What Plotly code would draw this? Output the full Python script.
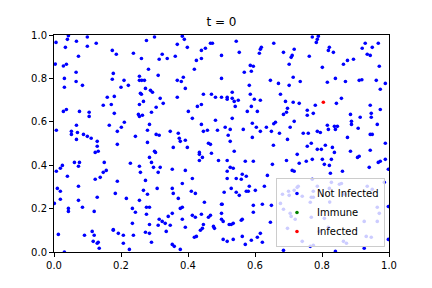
import plotly.graph_objects as go

# Not infected population (x, y)
x_not_infected = [
    0.043, 0.0995, 0.006, 0.040, 0.067, 0.034, 0.0995, 0.126, 0.073, 0.174, 0.186, 0.237, 0.004, 0.028, 0.037, 0.066, 0.177, 0.031, 0.066, 0.085, 0.174, 0.209, 0.200, 0.222, 0.031, 0.159, 0.180,
    0.300, 0.383, 0.276, 0.389, 0.368, 0.398, 0.440, 0.452, 0.467, 0.473, 0.500, 0.323, 0.314, 0.338, 0.362, 0.261, 0.425, 0.440, 0.282, 0.419, 0.311, 0.255, 0.255, 0.262, 0.270, 0.368, 0.380, 0.386, 0.500, 0.273, 0.288, 0.294, 0.392, 0.258, 0.261, 0.317, 0.368, 0.446, 0.470, 0.482, 0.500, 0.267, 0.255, 0.326,
    0.544, 0.656, 0.553, 0.613, 0.616, 0.619, 0.685, 0.717, 0.708, 0.711, 0.702, 0.586, 0.595, 0.568, 0.589, 0.714, 0.646, 0.670, 0.735, 0.583, 0.702, 0.532, 0.586, 0.676, 0.517, 0.517, 0.532, 0.538, 0.550, 0.598, 0.616, 0.691, 0.714, 0.732,
    0.771, 0.789, 0.786, 0.783, 0.822, 0.819, 0.834, 0.762, 0.801, 0.864, 0.876, 0.894, 0.920, 0.929, 0.950, 0.968, 0.935, 0.944, 0.971, 0.816, 0.840, 0.870, 0.911, 0.919, 0.962, 0.989, 0.974, 0.858, 0.843,
    0.147, 0.171, 0.028, 0.037, 0.076, 0.105, 0.105, 0.180, 0.007, 0.067, 0.052, 0.052, 0.070, 0.088, 0.0995, 0.111, 0.067, 0.165, 0.201, 0.210, 0.189, 0.243, 0.129, 0.129, 0.123, 0.132, 0.189, 0.061, 0.076, 0.025, 0.073, 0.019, 0.007, 0.150, 0.228, 0.156, 0.147, 0.138, 0.040,
    0.291, 0.305, 0.252, 0.255, 0.264, 0.285, 0.279, 0.305, 0.314, 0.347, 0.371, 0.374, 0.377, 0.392, 0.401, 0.428, 0.440, 0.413, 0.440, 0.446, 0.458, 0.482, 0.488, 0.279, 0.356, 0.398, 0.300, 0.303, 0.434, 0.434, 0.461, 0.467, 0.470, 0.443, 0.434, 0.491, 0.285, 0.291, 0.255, 0.297, 0.317, 0.258, 0.311, 0.353, 0.392,
    0.541, 0.589, 0.577, 0.607, 0.697, 0.685, 0.694, 0.756, 0.756, 0.532, 0.511, 0.526, 0.520, 0.526, 0.565, 0.592, 0.604, 0.616, 0.634, 0.649, 0.656, 0.661, 0.592, 0.673, 0.705, 0.717, 0.744, 0.697, 0.655, 0.756, 0.538, 0.517, 0.571, 0.595, 0.652, 0.694, 0.726, 0.732, 0.753, 0.526, 0.535, 0.517, 0.711, 0.717, 0.562, 0.574, 0.637,
    0.780, 0.944, 0.774, 0.974, 0.947, 0.947, 0.885, 0.914, 0.888, 0.888, 0.965, 0.816, 0.819, 0.837, 0.840, 0.846, 0.908, 0.759, 0.786, 0.795, 0.876, 0.944, 0.950, 0.768, 0.810, 0.831, 0.786, 0.798, 0.837, 0.885, 0.989, 0.944, 0.906, 0.911, 0.771, 0.801, 0.828, 0.807, 0.822, 0.861, 0.825, 0.941, 0.968, 0.974, 0.989, 0.998,
    0.123, 0.189, 0.010, 0.019, 0.073, 0.019, 0.073, 0.129, 0.183, 0.216, 0.001, 0.043, 0.043, 0.085, 0.120, 0.234, 0.243, 0.234, 0.013, 0.091, 0.114, 0.120, 0.177, 0.177, 0.192, 0.207, 0.237, 0.117, 0.129, 0.132, 0.135, 0.207, 0.225, 0.031,
    0.273, 0.413, 0.383, 0.267, 0.279, 0.308, 0.353, 0.356, 0.410, 0.422, 0.371, 0.255, 0.449, 0.276, 0.285, 0.276, 0.377, 0.383, 0.353, 0.341, 0.314, 0.323, 0.332, 0.347, 0.311, 0.285, 0.383, 0.392, 0.413, 0.422, 0.440, 0.461, 0.467, 0.446, 0.443, 0.437, 0.476, 0.479, 0.500, 0.502, 0.500, 0.500, 0.505, 0.419, 0.425, 0.273, 0.285, 0.335, 0.291, 0.353, 0.359, 0.377,
    0.517, 0.544, 0.559, 0.583, 0.628, 0.508, 0.529, 0.544, 0.553, 0.574, 0.580, 0.601, 0.682, 0.700, 0.717, 0.726, 0.729, 0.702, 0.741, 0.595, 0.622, 0.649, 0.676, 0.595, 0.685, 0.523, 0.529, 0.535, 0.559, 0.562, 0.646, 0.616, 0.607, 0.622, 0.589, 0.562, 0.571, 0.505, 0.517, 0.535, 0.685, 0.705, 0.708, 0.720, 0.697, 0.741,
    0.771, 0.828, 0.986, 0.786, 0.774, 0.768, 0.774, 0.822, 0.852, 0.858, 0.867, 0.935, 0.950, 0.998, 0.998, 0.840, 0.926,
    0.765, 0.823, 0.965, 0.971, 0.768, 0.807, 0.926, 0.965, 0.792, 0.819, 0.864, 0.873, 0.932, 0.947, 0.765, 0.774,
]
y_not_infected = [
    0.997, 0.991, 0.966, 0.980, 0.971, 0.943, 0.948, 0.962, 0.902, 0.929, 0.911, 0.916, 0.866, 0.857, 0.865, 0.828, 0.823, 0.800, 0.786, 0.768, 0.796, 0.791, 0.759, 0.768, 0.759, 0.713, 0.717,
    0.991, 0.994, 0.975, 0.980, 0.957, 0.943, 0.929, 0.939, 0.962, 0.962, 0.906, 0.911, 0.888, 0.892, 0.902, 0.892, 0.883, 0.892, 0.842, 0.842, 0.814, 0.810, 0.791, 0.791, 0.791, 0.791, 0.786, 0.805, 0.800, 0.754, 0.745, 0.736, 0.754, 0.731, 0.727, 0.708, 0.713, 0.727, 0.727, 0.713, 0.713, 0.694, 0.680, 0.685,
    0.971, 0.962, 0.920, 0.916, 0.934, 0.943, 0.920, 0.934, 0.897, 0.906, 0.865, 0.860, 0.856, 0.828, 0.833, 0.805, 0.791, 0.777, 0.786, 0.768, 0.768, 0.736, 0.727, 0.727, 0.713, 0.704, 0.708, 0.694, 0.699, 0.704, 0.699, 0.694, 0.690, 0.685,
    0.991, 0.994, 0.980, 0.966, 0.943, 0.929, 0.920, 0.902, 0.851, 0.865, 0.883, 0.888, 0.939, 0.962, 0.943, 0.962, 0.911, 0.906, 0.856, 0.782, 0.800, 0.786, 0.791, 0.794, 0.791, 0.777, 0.750, 0.708, 0.685,
    0.676, 0.680, 0.648, 0.657, 0.648, 0.644, 0.625, 0.639, 0.561, 0.584, 0.556, 0.542, 0.551, 0.542, 0.533, 0.524, 0.519, 0.584, 0.575, 0.598, 0.556, 0.533, 0.510, 0.487, 0.459, 0.464, 0.496, 0.413, 0.413, 0.399, 0.395, 0.386, 0.372, 0.413, 0.409, 0.376, 0.367, 0.344, 0.349,
    0.644, 0.667, 0.634, 0.625, 0.630, 0.588, 0.561, 0.542, 0.538, 0.556, 0.547, 0.524, 0.510, 0.515, 0.648, 0.671, 0.680, 0.616, 0.588, 0.556, 0.561, 0.607, 0.561, 0.505, 0.482, 0.482, 0.464, 0.459, 0.459, 0.450, 0.501, 0.496, 0.455, 0.436, 0.422, 0.422, 0.436, 0.413, 0.395, 0.390, 0.390, 0.367, 0.367, 0.381, 0.376,
    0.671, 0.671, 0.648, 0.648, 0.662, 0.634, 0.644, 0.653, 0.630, 0.616, 0.575, 0.565, 0.538, 0.510, 0.565, 0.593, 0.575, 0.556, 0.575, 0.556, 0.591, 0.598, 0.528, 0.547, 0.575, 0.602, 0.547, 0.519, 0.492, 0.487, 0.464, 0.422, 0.418, 0.418, 0.404, 0.422, 0.450, 0.409, 0.418, 0.390, 0.386, 0.372, 0.376, 0.372, 0.358, 0.349, 0.353,
    0.676, 0.676, 0.639, 0.657, 0.639, 0.621, 0.634, 0.621, 0.602, 0.588, 0.588, 0.584, 0.565, 0.579, 0.565, 0.579, 0.570, 0.547, 0.556, 0.551, 0.528, 0.542, 0.542, 0.501, 0.492, 0.482, 0.473, 0.473, 0.459, 0.464, 0.501, 0.469, 0.436, 0.441, 0.427, 0.427, 0.427, 0.404, 0.399, 0.372, 0.363, 0.390, 0.413, 0.418, 0.427, 0.381,
    0.335, 0.326, 0.293, 0.280, 0.303, 0.243, 0.238, 0.252, 0.270, 0.247, 0.224, 0.201, 0.187, 0.206, 0.187, 0.201, 0.183, 0.132, 0.081, 0.077, 0.095, 0.077, 0.104, 0.100, 0.086, 0.077, 0.077, 0.049, 0.040, 0.045, 0.017, 0.040, 0.012, 0.000,
    0.330, 0.339, 0.316, 0.284, 0.266, 0.293, 0.293, 0.270, 0.280, 0.270, 0.247, 0.238, 0.229, 0.206, 0.206, 0.174, 0.201, 0.206, 0.178, 0.164, 0.151, 0.141, 0.132, 0.123, 0.123, 0.127, 0.151, 0.114, 0.169, 0.160, 0.174, 0.160, 0.169, 0.127, 0.109, 0.100, 0.118, 0.109, 0.220, 0.220, 0.178, 0.151, 0.141, 0.068, 0.072, 0.091, 0.086, 0.095, 0.045, 0.035, 0.026, 0.012,
    0.339, 0.339, 0.335, 0.303, 0.303, 0.275, 0.293, 0.275, 0.261, 0.280, 0.280, 0.284, 0.266, 0.280, 0.284, 0.298, 0.303, 0.261, 0.257, 0.215, 0.220, 0.215, 0.224, 0.183, 0.197, 0.127, 0.127, 0.132, 0.146, 0.151, 0.137, 0.086, 0.068, 0.045, 0.054, 0.072, 0.035, 0.058, 0.049, 0.058, 0.008, 0.178, 0.164, 0.151, 0.109, 0.049,
    0.335, 0.321, 0.321, 0.303, 0.280, 0.252, 0.252, 0.293, 0.312, 0.316, 0.266, 0.303, 0.289, 0.210, 0.058, 0.003, 0.017,
    0.229, 0.230, 0.206, 0.178, 0.160, 0.155, 0.141, 0.141, 0.095, 0.114, 0.049, 0.040, 0.072, 0.068, 0.026, 0.031,
]

x_immune = []
y_immune = []

x_infected = [0.804]
y_infected = [0.690]

title_text = "t = 0"
tick_vals = [0.0, 0.2, 0.4, 0.6, 0.8, 1.0]

FONT = "DejaVu Sans, Arial, sans-serif"
msize = 3.6

fig = go.Figure()
fig.add_trace(go.Scatter(x=x_not_infected, y=y_not_infected, mode="markers",
                         name="Not Infected",
                         marker=dict(color="#0000ff", size=msize, line=dict(width=0))))
# empty group still listed in the legend
fig.add_trace(go.Scatter(x=x_immune if x_immune else [None],
                         y=y_immune if y_immune else [None],
                         mode="markers", name="Immune",
                         marker=dict(color="#008000", size=msize, line=dict(width=0))))
fig.add_trace(go.Scatter(x=x_infected, y=y_infected, mode="markers", name="Infected",
                         marker=dict(color="#ff0000", size=msize, line=dict(width=0))))

axis_common = dict(range=[0, 1], tickvals=tick_vals, tickformat=".1f",
                   showgrid=False, zeroline=False, showline=True, linecolor="black",
                   linewidth=1, mirror=True, ticks="outside", ticklen=4, tickwidth=1,
                   tickcolor="black", tickfont=dict(family=FONT, size=10, color="black"))

fig.update_layout(
    width=432, height=288,
    margin=dict(l=54, r=43, t=35, b=36),
    paper_bgcolor="white", plot_bgcolor="white",
    title=dict(text=title_text, x=0.5, xref="paper", xanchor="center",
               y=1 - 22 / 288, yref="container", yanchor="middle",
               font=dict(family=FONT, size=12, color="black")),
    xaxis=axis_common, yaxis=axis_common,
    showlegend=True,
    legend=dict(x=0.988, y=0.023, xanchor="right", yanchor="bottom",
                bgcolor="rgba(255,255,255,0.8)", bordercolor="#cccccc", borderwidth=1,
                font=dict(family=FONT, size=10, color="black"),
                itemwidth=30, tracegroupgap=0),
)

fig.write_html("out.html")
